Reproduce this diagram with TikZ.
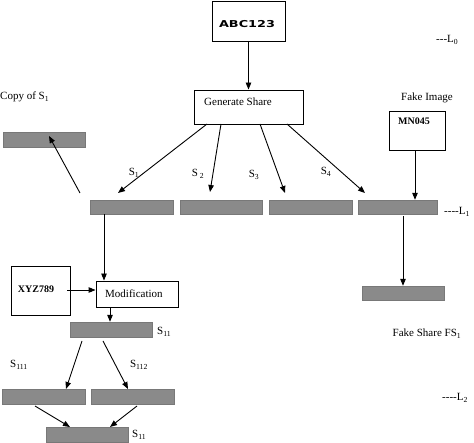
\documentclass[tikz,border=0pt]{standalone}
\usepackage{fontspec}
\setmainfont{Liberation Serif}
\newfontfamily\boldsans{DejaVu Sans}[BoldFont={DejaVu Sans Bold}]
\usetikzlibrary{arrows.meta}
\definecolor{barg}{RGB}{138,138,138}
\definecolor{bard}{RGB}{120,120,120}
\tikzset{
  lbl/.style={font=\fontsize{11}{13}\selectfont, inner sep=0pt},
  boxn/.style={draw, line width=0.9pt, inner sep=0pt},
  bar/.style={fill=barg, draw=bard, line width=0.5pt},
  arr/.style={line width=0.9pt, -{Triangle[length=7pt,width=5.5pt]}},
}
\begin{document}
\begin{tikzpicture}[x=1pt,y=-1pt]
\useasboundingbox (0,0) rectangle (474,443);
% boxes
\draw[boxn] (212,1) rectangle (285,41);
\node[inner sep=0pt, font=\boldsans\bfseries\fontsize{9.5}{11}\selectfont] (abct) at (247,24) {\scalebox{1.35}[1]{ABC123}};
\coordinate (abcs) at (248.5,41);
\node[boxn, minimum width=109pt, minimum height=34pt] (gs) at (248.5,107) {};
\node[lbl, anchor=west] (gst) at (204,102) {Generate Share};
\node[boxn, minimum width=56pt, minimum height=39pt] (mn) at (417,130.5) {};
\node[lbl, anchor=west, font=\bfseries\fontsize{10}{12}\selectfont] (mnt) at (398,121) {MN045};
\node[lbl] (fake) at (427,98) {Fake Image};
\node[boxn, minimum width=82pt, minimum height=26pt] (mod) at (137,294) {};
\node[lbl, anchor=west] (modt) at (105,294) {Modification};
\node[boxn, minimum width=59pt, minimum height=49pt] (xyz) at (40.5,290.5) {};
\node[lbl, font=\bfseries\fontsize{10}{12}\selectfont] (xyzt) at (36,289) {XYZ789};
% bars
\path[bar] (3,132) rectangle (85,147);
\node[inner sep=0pt, minimum width=82pt, minimum height=15pt] (copy) at (44,139.5) {};
\path[bar] (90,200) rectangle (173,214);
\node[inner sep=0pt, minimum width=83pt, minimum height=14pt] (b1) at (131.5,207) {};
\path[bar] (180,200) rectangle (262,214);
\node[inner sep=0pt, minimum width=82pt, minimum height=14pt] (b2) at (221,207) {};
\path[bar] (269,200) rectangle (352,214);
\node[inner sep=0pt, minimum width=83pt, minimum height=14pt] (b3) at (310.5,207) {};
\path[bar] (358,200) rectangle (437,214);
\node[inner sep=0pt, minimum width=79pt, minimum height=14pt] (b4) at (397.5,207) {};
\path[bar] (362,286) rectangle (444,300);
\node[inner sep=0pt, minimum width=82pt, minimum height=14pt] (fs) at (403,293) {};
\path[bar] (70,322) rectangle (152,337);
\node[inner sep=0pt, minimum width=82pt, minimum height=15pt] (s11) at (111,329.5) {};
\path[bar] (2,389) rectangle (85,404);
\node[inner sep=0pt, minimum width=83pt, minimum height=15pt] (s111) at (43.5,396.5) {};
\path[bar] (91,389) rectangle (174,404);
\node[inner sep=0pt, minimum width=83pt, minimum height=15pt] (s112) at (132.5,396.5) {};
\path[bar] (46,427) rectangle (128,442);
\node[inner sep=0pt, minimum width=82pt, minimum height=15pt] (fin) at (87,434.5) {};
% labels
\node[lbl, anchor=west] (copyl) at (0,97) {Copy of S\textsubscript{1}};
\node[lbl, anchor=west] (l0) at (436,40) {{-}{-}{-}L\textsubscript{0}};
\node[lbl, anchor=west] (l1) at (444,212) {{-}{-}{-}{-}L\textsubscript{1}};
\node[lbl, anchor=west] (l2) at (442,398) {{-}{-}{-}{-}L\textsubscript{2}};
\node[lbl] (sl1) at (134,173) {S\textsubscript{1}};
\node[lbl] (sl2) at (198,174) {S\,\textsubscript{2}};
\node[lbl] (sl3) at (254,175) {S\textsubscript{3}};
\node[lbl] (sl4) at (326,172) {S\textsubscript{4}};
\node[lbl, anchor=west] (s11l) at (157,332) {S\textsubscript{11}};
\node[lbl] (fsl) at (427,334) {Fake Share FS\textsubscript{1}};
\node[lbl] (s111l) at (19,365) {S\textsubscript{111}};
\node[lbl] (s112l) at (139,365) {S\textsubscript{112}};
\node[lbl, anchor=west] (finl) at (132,435) {S\textsubscript{11}};
% coordinates for arrow ends
\coordinate (g1) at (207,124); \coordinate (t1) at (118,193);
\coordinate (g2) at (221,124); \coordinate (t2) at (210,192);
\coordinate (g3) at (260,124); \coordinate (t3) at (285,193);
\coordinate (g4) at (287,124); \coordinate (t4) at (365,193);
\coordinate (cf) at (80,193); \coordinate (ct) at (49,136);
\coordinate (a1) at (82,341); \coordinate (e1) at (66,389);
\coordinate (a2) at (103,341); \coordinate (e2) at (128,389);
\coordinate (c1) at (35,406); \coordinate (f1) at (70,427);
\coordinate (c2) at (137,406); \coordinate (f2) at (110,427);
% arrows
\draw[arr] (abcs) -- (gs.north);
\draw[arr] (g1) -- (t1);
\draw[arr] (g2) -- (t2);
\draw[arr] (g3) -- (t3);
\draw[arr] (g4) -- (t4);
\draw[arr] (cf) -- (ct);
\draw[arr] (mn.south -| 415,0) -- (b4.north -| 415,0);
\draw[arr] (b1.south -| 104,0) -- (mod.north -| 104,0);
\draw[arr] (67,290) -- (mod.west |- 0,290);
\draw[arr] (mod.south -| 110,0) -- (s11.north -| 110,0);
\draw[arr] (b4.south -| 403,0) ++(0,2) -- (fs.north -| 403,0);
\draw[arr] (a1) -- (e1);
\draw[arr] (a2) -- (e2);
\draw[arr] (c1) -- (f1);
\draw[arr] (c2) -- (f2);
\end{tikzpicture}
\end{document}
